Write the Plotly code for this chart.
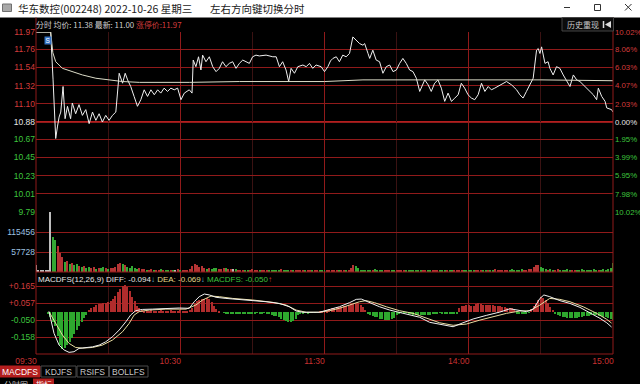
import numpy as np
import plotly.graph_objects as go

# ---------------- data ----------------
prev_close = 10.88
price_series = [
    (0, 11.97), (6.1, 11.97), (7.1, 11.39), (8.2, 10.68), (8.9, 10.82), (9.6, 10.94), (10.3, 11.00),
    (11.25, 11.31), (12.1, 10.92), (13.1, 11.07), (14.4, 10.92), (15.1, 11.11), (16.5, 10.98),
    (17.9, 11.09), (19.3, 10.96), (20.7, 11.03), (22.1, 10.86), (23.5, 11.00), (24.9, 10.90),
    (26.25, 10.98), (27.6, 10.88), (29.0, 10.96), (30.4, 10.90), (31.8, 10.96), (33.2, 11.00),
    (34.6, 11.47), (36.0, 11.35), (37.1, 11.47), (38.1, 11.39), (39.4, 11.31), (40.8, 11.19),
    (42.2, 11.07), (43.6, 11.15), (45.0, 11.27), (46.4, 11.19), (47.8, 11.27), (49.2, 11.21),
    (50.6, 11.27), (51.9, 11.23), (53.3, 11.29), (54.7, 11.25), (56.1, 11.29), (57.5, 11.27),
    (58.9, 11.29), (60.3, 11.15), (61.7, 11.23), (63.75, 11.27), (64.9, 11.23), (65.4, 11.63),
    (66.5, 11.55), (67.6, 11.67), (68.6, 11.51), (69.3, 11.69), (70.7, 11.61), (72.1, 11.67),
    (73.5, 11.55), (74.9, 11.49), (76.25, 11.53), (77.6, 11.61), (79.0, 11.55), (80.4, 11.59),
    (81.8, 11.61), (83.2, 11.53), (84.6, 11.59), (86.0, 11.63), (87.4, 11.61), (88.75, 11.59),
    (90.1, 11.67), (91.5, 11.69), (92.9, 11.68), (95.7, 11.69), (98.5, 11.67), (99.9, 11.67),
    (101.25, 11.55), (102.6, 11.61), (104.0, 11.51), (105.1, 11.37), (106.1, 11.53), (107.5, 11.47),
    (108.9, 11.55), (111.0, 11.57), (112.4, 11.55), (113.75, 11.59), (115.1, 11.53), (116.5, 11.57),
    (118.6, 11.55), (120.0, 11.49), (121.4, 11.55), (122.5, 11.62), (123.5, 11.65), (124.9, 11.67),
    (126.2, 11.61), (127.6, 11.69), (129.0, 11.67), (130.4, 11.71), (131.8, 11.91), (133.2, 11.87),
    (134.6, 11.83), (136.0, 11.81), (136.7, 11.83), (138.1, 11.71), (138.8, 11.65), (140.1, 11.75),
    (141.5, 11.63), (142.9, 11.61), (144.3, 11.47), (145.7, 11.55), (147.1, 11.57), (148.5, 11.49),
    (149.9, 11.51), (151.25, 11.59), (152.6, 11.65), (154.0, 11.59), (155.4, 11.51), (156.8, 11.49),
    (158.2, 11.41), (159.6, 11.25), (161.0, 11.33), (161.7, 11.39), (163.1, 11.33), (164.4, 11.25),
    (165.8, 11.35), (167.2, 11.39), (168.6, 11.29), (170.0, 11.13), (171.4, 11.23), (172.8, 11.13),
    (174.2, 11.17), (175.6, 11.21), (176.9, 11.35), (178.3, 11.29), (179.7, 11.21), (181.1, 11.17),
    (182.5, 11.15), (183.9, 11.21), (185.3, 11.35), (186.7, 11.25), (188.1, 11.31), (189.4, 11.27),
    (190.8, 11.29), (192.2, 11.31), (193.6, 11.33), (195.7, 11.37), (197.8, 11.33), (199.9, 11.27),
    (201.25, 11.21), (202.6, 11.17), (204.0, 11.25), (205.4, 11.33), (206.8, 11.41), (208.2, 11.75),
    (208.9, 11.77), (209.6, 11.71), (210.3, 11.79), (211.7, 11.59), (213.0, 11.61), (213.75, 11.53),
    (215.1, 11.45), (216.5, 11.55), (217.9, 11.53), (219.3, 11.45), (220.7, 11.37), (222.1, 11.31),
    (223.5, 11.45), (224.9, 11.39), (226.25, 11.37), (227.6, 11.33), (229.0, 11.29), (230.4, 11.25),
    (231.8, 11.21), (233.2, 11.15), (233.9, 11.29), (235.3, 11.19), (236.7, 11.13), (237.4, 11.05),
    (239.4, 11.03), (240, 11.00),
]
avg_series = [
    (0, 11.97), (6.1, 11.97), (7.0, 11.72), (8.2, 11.61), (11.0, 11.53), (15.1, 11.49), (19.3, 11.45),
    (24.9, 11.41), (30.4, 11.39), (36.0, 11.37), (43.0, 11.36), (63.75, 11.36), (84.6, 11.37),
    (120, 11.37), (136, 11.39), (180, 11.39), (210, 11.39), (240, 11.38),
]
# per-minute volume, thousands of shares (09:30 .. 15:00)
volume_k = [
    20, 4, 3, 5, 3, 6,
    172, 101, 92, 75, 55, 42, 30, 33, 24, 26, 20, 23, 16, 14, 17, 13, 15, 12,
    14, 10, 13, 11, 15, 12, 10, 13, 11, 14,
    22, 26, 24, 20, 15, 13, 16, 11, 10, 12, 9, 10,
    7, 6, 8, 5, 7, 6, 8, 6, 5, 7, 6, 5, 7, 8, 6, 5, 6, 7, 9,
    18, 22, 20, 14, 16, 12, 10, 12, 9, 11, 13, 10, 9, 11, 12, 9, 10, 8, 9,
    6, 5, 7, 4, 6, 5, 8, 6, 5, 4, 6, 7, 5, 4, 6, 5, 7, 6, 8, 5, 4, 6, 5, 7, 6, 4, 5, 6, 5, 7, 4, 6, 5, 6, 4, 5,
    6,
    5, 6, 4, 7, 5, 6, 5, 4, 6, 7,
    12, 19, 17, 11,
    6, 5, 7, 4, 6, 5, 8, 5, 4, 6, 5, 7, 4, 5, 6, 4, 5, 6, 4, 5, 7, 5, 4, 6, 5, 4, 5, 6, 4, 5, 6,
    4, 5, 6, 4, 5, 7, 4, 5, 6, 4, 5, 4, 6, 5, 4, 5, 6, 7, 5, 4, 6, 5, 7, 6, 5, 8, 6, 5, 7, 6, 5, 6, 8, 7, 5, 6, 8, 7, 6, 9,
    10, 14, 19, 20, 15, 12, 9,
    7, 8, 6, 7, 9, 6, 5, 7, 8, 6, 5, 7, 6, 5, 8, 6, 7, 5, 6, 8, 7, 6, 5, 9, 7, 8,
    12, 25,
]
# per-minute MACD histogram
macd_hist = [
    0, 0, 0, 0, 0,
    -0.005, -0.03, -0.06, -0.09, -0.15, -0.21, -0.235, -0.23, -0.21, -0.19, -0.165, -0.14, -0.115, -0.09,
    -0.06, -0.035, -0.015, 0.015,
    0.025, 0.035, 0.045, 0.05, 0.055, 0.058, 0.062, 0.066, 0.072, 0.085, 0.105, 0.13, 0.15, 0.168, 0.172,
    0.16, 0.135, 0.10, 0.07, 0.04, 0.025, 0.015, 0.01,
    0.008, 0.01, 0.012, 0.01, 0.009, 0.011, 0.012, 0.01, 0.008, 0.01, 0.012, 0.011, 0.009, 0.01, 0.012,
    0.01, 0.008, 0.01, 0.015,
    0.03, 0.06, 0.07, 0.078, 0.082, 0.086, 0.088, 0.082, 0.065, 0.04, 0.02, 0.005,
    0.0, -0.003, -0.005, -0.005,
    -0.01, -0.012, -0.01, -0.011, -0.013, -0.01, -0.012, -0.011, -0.009, -0.008,
    -0.005, -0.004, -0.006, -0.005, -0.004, -0.006, -0.01,
    -0.02, -0.022, -0.025, -0.03, -0.04, -0.05, -0.055, -0.06, -0.062, -0.055, -0.04, -0.02, -0.01,
    -0.005, -0.004, -0.005, -0.003, -0.004, -0.003, 0.0,
    0.005, 0.006, 0.008, 0.012,
    0.018, 0.024, 0.03, 0.032, 0.034, 0.035, 0.038, 0.042, 0.046, 0.05, 0.054, 0.056, 0.056, 0.048, 0.035, 0.015,
    -0.01, -0.02, -0.025, -0.028, -0.033, -0.04, -0.045, -0.048, -0.05, -0.05, -0.045, -0.035, -0.02, -0.008,
    -0.003, -0.004, -0.003, -0.005, -0.008,
    -0.015, -0.018, -0.02, -0.016, -0.018, -0.02, -0.017, -0.015, -0.012,
    -0.006, -0.005, -0.004, -0.006, -0.008,
    -0.012, -0.014, -0.012, -0.013, -0.01,
    0.03, 0.038, 0.042, 0.046, 0.044, 0.04, 0.042, 0.05, 0.056, 0.05, 0.046, 0.044, 0.046, 0.046, 0.045,
    0.042, 0.04, 0.038, 0.036, 0.035, 0.03, 0.027, 0.025, 0.015,
    -0.008, -0.012, -0.013, -0.012, -0.01, -0.004,
    0.02, 0.04, 0.056, 0.08, 0.099, 0.09, 0.078, 0.056, 0.035, 0.014,
    -0.008, -0.018,
    -0.025, -0.028, -0.032, -0.036, -0.039, -0.039, -0.036, -0.034, -0.03, -0.028, -0.026, -0.025, -0.022,
    -0.02, -0.018, -0.02, -0.022, -0.025, -0.028, -0.032, -0.038, -0.044, -0.05,
]
diff_series = [
    (5.4, 0.004), (7.5, -0.134), (9.6, -0.209), (11.7, -0.240), (13.75, -0.255), (15.8, -0.251),
    (17.9, -0.230), (20.7, -0.224), (23.5, -0.220), (26.25, -0.209), (29.0, -0.188), (31.8, -0.156),
    (34.6, -0.113), (37.4, -0.060), (39.4, -0.017), (41.5, 0.010), (44.3, 0.018), (48.5, 0.020),
    (54.0, 0.025), (59.6, 0.027), (63.75, 0.025), (65.8, 0.067), (67.9, 0.099), (70.0, 0.116),
    (72.1, 0.110), (74.9, 0.095), (79.0, 0.088), (84.6, 0.082), (90.1, 0.074), (95.7, 0.067),
    (101.25, 0.056), (105.4, 0.035), (108.2, 0.008), (111.0, 0.0), (117.9, 0.0), (122.1, 0.018),
    (126.2, 0.035), (130.4, 0.061), (133.2, 0.082), (135.3, 0.084), (138.0, 0.067), (142.9, 0.035),
    (147.1, 0.014), (151.2, 0.0), (155.4, -0.018), (159.6, -0.032), (163.75, -0.064), (167.9, -0.077),
    (173.5, -0.092), (177.6, -0.067), (181.8, -0.043), (187.3, -0.020), (192.9, 0.001), (197.1, 0.022),
    (201.25, 0.010), (204.0, 0.004), (206.8, 0.018), (209.6, 0.088), (211.25, 0.110), (213.7, 0.099),
    (217.9, 0.074), (222.1, 0.056), (226.25, 0.031), (230.4, -0.003), (234.6, -0.039), (237.4, -0.067),
    (239.4, -0.094),
]
dea_series = [
    (5.4, 0.004), (8.2, -0.071), (11.0, -0.145), (13.75, -0.198), (16.5, -0.224), (19.3, -0.228),
    (23.5, -0.224), (27.6, -0.209), (31.8, -0.177), (36.0, -0.124), (38.75, -0.071), (40.8, -0.018),
    (42.9, 0.004), (47.1, 0.014), (54.0, 0.020), (62.4, 0.020), (66.5, 0.046), (69.3, 0.078),
    (72.8, 0.103), (76.25, 0.099), (81.8, 0.088), (90.1, 0.078), (98.5, 0.063), (104.0, 0.046),
    (108.2, 0.014), (112.4, 0.0), (117.9, 0.0), (122.1, 0.010), (126.2, 0.025), (130.4, 0.046),
    (134.6, 0.067), (137.3, 0.074), (140.8, 0.061), (145.7, 0.035), (151.2, 0.010), (156.8, -0.007),
    (162.3, -0.035), (167.9, -0.067), (173.5, -0.083), (179.0, -0.075), (184.6, -0.050), (190.1, -0.028),
    (195.7, -0.007), (201.25, 0.008), (205.4, 0.010), (209.6, 0.046), (213.7, 0.088), (217.9, 0.082),
    (222.1, 0.067), (227.6, 0.035), (233.2, -0.007), (237.4, -0.045), (239.4, -0.069),
]
price_ticks = [11.97, 11.76, 11.54, 11.32, 11.10, 10.88, 10.67, 10.45, 10.23, 10.01, 9.79]
price_labels = ["11.97", "11.76", "11.54", "11.32", "11.10", "10.88", "10.67", "10.45", "10.23", "10.01", "9.79"]
pct_labels = ["10.02%", "8.06%", "6.03%", "4.07%", "2.03%", "0.00%", "1.95%", "3.99%", "5.95%", "7.98%", "10.02%"]
vol_ticks = [0, 57728, 115456]
vol_labels = ["", "57728", "115456"]
vol_max = 173184
macd_ticks = [0.165, 0.057, -0.050, -0.158]
macd_labels = ["+0.165", "+0.057", "-0.050", "-0.158"]
time_ticks = [0, 60, 120, 180, 240]
time_labels = ["09:30", "10:30", "11:30", "14:00", "15:00"]
half_hours = [30, 90, 150, 210]

# ---------------- geometry helpers ----------------
W, H = 640, 384
ML, MR, MT, MB = 36, 27, 32, 30
PW = W - ML - MR
PH = H - MT - MB


def fx(x):
    return (x - ML) / PW


def fy(y):
    return (H - MB - y) / PH


FONT = "Liberation Sans, Noto Sans CJK SC, sans-serif"
CJK = "Noto Sans CJK SC, Liberation Sans, sans-serif"
RED = "#d43c3c"
GREEN = "#3ec43e"
WHITE = "#e6e6e6"
GRID = "#901a1a"
DIM = "#3a1212"
LBLUE = "#9cc0e0"


def col(t, c):
    return f'<span style="color:{c}">{t}</span>'


def pcolor(v):
    if abs(v - prev_close) < 1e-9:
        return WHITE
    return RED if v > prev_close else GREEN


pt = [p[0] for p in price_series]
pv = [p[1] for p in price_series]
at = [p[0] for p in avg_series]
av = [p[1] for p in avg_series]
minutes = np.arange(len(volume_k))
vol = np.array(volume_k) * 1000.0
pm = np.interp(minutes, pt, pv)
chg = np.diff(np.concatenate([[pm[0]], pm]))
vol_colors = ["#b43434" if c > 1e-6 else ("#34a834" if c < -1e-6 else "#bdbdbd") for c in chg]
hist = np.array(macd_hist)
hist_colors = ["#b02c2c" if h >= 0 else "#2ea82e" for h in hist]

fig = go.Figure()
fig.add_trace(go.Bar(x=minutes, y=vol, width=0.42, marker=dict(color=vol_colors, line=dict(width=0)),
                     xaxis="x", yaxis="y3", showlegend=False))
fig.add_trace(go.Bar(x=minutes, y=hist, width=0.42, marker=dict(color=hist_colors, line=dict(width=0)),
                     xaxis="x", yaxis="y4", showlegend=False))
fig.add_trace(go.Scatter(x=[d[0] for d in dea_series], y=[d[1] for d in dea_series], mode="lines",
                         line=dict(color="#e8dca0", width=1), xaxis="x", yaxis="y4", showlegend=False))
fig.add_trace(go.Scatter(x=[d[0] for d in diff_series], y=[d[1] for d in diff_series], mode="lines",
                         line=dict(color="#f2f2f2", width=1), xaxis="x", yaxis="y4", showlegend=False))
fig.add_trace(go.Scatter(x=at, y=av, mode="lines", line=dict(color="#dcdcc8", width=1),
                         xaxis="x", yaxis="y2", showlegend=False))
fig.add_trace(go.Scatter(x=pt, y=pv, mode="lines", line=dict(color="#f0f0f0", width=1),
                         xaxis="x", yaxis="y", showlegend=False))

p_lo, p_hi = min(price_ticks), max(price_ticks)
d_price = [fy(212), 1]
d_vol = [fy(272), fy(212)]
d_macd = [0, fy(272)]
macd_range = [-0.2655, 0.256]

tick_font = dict(family=FONT, size=8.5)
fig.update_layout(
    width=W, height=H, margin=dict(l=ML, r=MR, t=MT, b=MB, autoexpand=False),
    paper_bgcolor="#000000", plot_bgcolor="#000000", bargap=0, barmode="overlay",
    hovermode=False,
    xaxis=dict(domain=[0, 1], range=[0, 240], anchor="y4", tickmode="array", tickvals=time_ticks,
               ticktext=time_labels, showgrid=True, gridcolor=GRID, gridwidth=1, zeroline=False,
               ticks="", ticklabelshift=-10, tickfont=dict(family=FONT, size=8.5, color="#c83232"),
               minor=dict(tickvals=half_hours, showgrid=True, gridcolor=DIM, gridwidth=1),
               showline=False, fixedrange=True, automargin=False),
    yaxis=dict(domain=d_price, range=[p_lo, p_hi], tickmode="array", tickvals=price_ticks,
               ticktext=[col(t, pcolor(v)) for t, v in zip(price_labels, price_ticks)],
               showgrid=True, gridcolor=GRID, gridwidth=1, zeroline=False, ticks="",
               tickfont=tick_font, fixedrange=True, automargin=False),
    yaxis2=dict(domain=d_price, range=[p_lo, p_hi], overlaying="y", side="right", anchor="x",
                tickmode="array", tickvals=price_ticks,
                ticktext=[col(t, pcolor(v)) for t, v in zip(pct_labels, price_ticks)],
                showgrid=False, zeroline=False, ticks="", tickfont=dict(family=FONT, size=7.8),
                ticklabelstandoff=1, fixedrange=True, automargin=False),
    yaxis3=dict(domain=d_vol, range=[0, vol_max], anchor="x", tickmode="array", tickvals=vol_ticks,
                ticktext=[col(t, LBLUE) for t in vol_labels], showgrid=True, gridcolor=GRID,
                zeroline=False, ticks="", tickfont=tick_font, fixedrange=True, automargin=False),
    yaxis4=dict(domain=d_macd, range=macd_range, anchor="x", tickmode="array", tickvals=macd_ticks,
                ticktext=[col(t, RED if v > 0 else GREEN) for t, v in zip(macd_labels, macd_ticks)],
                showgrid=True, gridcolor=GRID, zeroline=False, ticks="", tickfont=tick_font,
                fixedrange=True, automargin=False),
)

shapes = []
P = dict(xref="paper", yref="paper")


def rect(x0, y0, x1, y1, fill, line=None, lw=0):
    shapes.append(dict(type="rect", **P, x0=fx(x0), x1=fx(x1), y0=fy(y1), y1=fy(y0), fillcolor=fill,
                       line=dict(color=line or fill, width=lw), layer="above"))


def seg(x0, y0, x1, y1, color, w=1):
    shapes.append(dict(type="line", **P, x0=fx(x0), x1=fx(x1), y0=fy(y0), y1=fy(y1),
                       line=dict(color=color, width=w), layer="above"))


# title bar
rect(0, 0, W, 17.5, "#ffffff")
rect(2.5, 4, 11.5, 11.5, "#a8a8a8", "#707070", 1)
seg(564, 7.5, 570, 7.5, "#333333", 1)
rect(594.5, 4.5, 600.5, 10.5, "rgba(0,0,0,0)", "#333333", 1)
seg(625, 4, 631.5, 10.5, "#333333", 1)
seg(631.5, 4, 625, 10.5, "#333333", 1)
# panel borders
seg(ML, 17.5, ML, H - MB, GRID, 1)
seg(W - MR, 17.5, W - MR, H - MB, GRID, 1)
seg(ML, 272, W - MR, 272, GRID, 1)
seg(ML, H - MB, W - MR, H - MB, GRID, 1)
shapes.append(dict(type="line", xref="paper", yref="y", x0=0, x1=1, y0=prev_close, y1=prev_close,
                   line=dict(color="#b41e1e", width=2), layer="below"))
# history button
rect(562, 17.5, 613.5, 31, "#0c0c0c", "#444444", 1)
seg(603.5, 21, 603.5, 28, "#dddddd", 1.5)
shapes.append(dict(type="path", **P, path=f"M {fx(611)} {fy(21)} L {fx(611)} {fy(28)} L {fx(605)} {fy(24.5)} Z",
                   fillcolor="#dddddd", line=dict(width=0), layer="above"))
# bottom tabs
rect(0, 366, 40, 377, "#b41e1e", "#b41e1e", 1)
rect(41, 366, 76, 377, "#000000", "#4a4a4a", 1)
rect(77, 366, 108.5, 377, "#000000", "#4a4a4a", 1)
rect(109.5, 366, 148, 377, "#000000", "#4a4a4a", 1)
rect(33, 378.5, 54, 390, "#b41e1e")
fig.update_layout(shapes=shapes)

anns = []


def ann(x, y, text, size, color="#e0e0e0", xa="left", ya="middle", family=FONT, **kw):
    anns.append(dict(xref="paper", yref="paper", x=fx(x), y=fy(y), text=text, showarrow=False,
                     xanchor=xa, yanchor=ya, font=dict(family=family, size=size, color=color),
                     borderpad=0, **kw))


ann(17, 8.5, "华东数控(002248) 2022-10-26 星期三", 10.5, "#1a1a1a", family=CJK)
ann(209, 8.5, "左右方向键切换分时", 10.5, "#1a1a1a", family=CJK)
ann(35, 25, "分时 均价: 11.38 最新: 11.00 " + col("涨停价:11.97", RED), 7.9, "#cfcfcf", family=CJK)
ann(565.5, 24.5, "历史重现", 8, "#c8c8c8", family=CJK)
ann(47.5, 40, "S", 6.5, "#ffffff", xa="center", bgcolor="#3573c4", width=6, height=7)
ann(37, 279, "MACDFS(12,26,9) DIFF: -0.094" + col("↓", "#5fb6d6") + " " + col("DEA: -0.069", "#e6d88a")
    + col("↓", "#5fb6d6") + " " + col("MACDFS: -0.050", GREEN) + col("↑", RED), 8, "#e6e6e6")
ann(20, 371.5, "MACDFS", 8.5, "#ffffff", xa="center")
ann(58.5, 371.5, "KDJFS", 8.5, "#c8c8c8", xa="center")
ann(92.8, 371.5, "RSIFS", 8.5, "#c8c8c8", xa="center")
ann(128.8, 371.5, "BOLLFS", 8.5, "#c8c8c8", xa="center")
ann(3, 378, "分时图", 8, "#c8c8c8", ya="top", family=CJK)
ann(43.5, 378, "指标", 8, "#ffffff", xa="center", ya="top", family=CJK)
fig.update_layout(annotations=anns)

fig.write_html("out.html")
